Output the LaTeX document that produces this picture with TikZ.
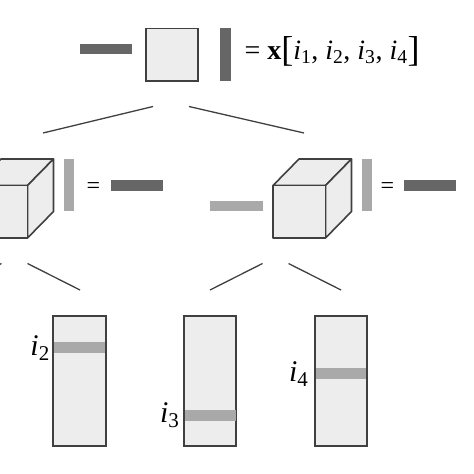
\documentclass[tikz,border=0pt]{standalone}
\usepackage{fontspec}
\setmainfont{Liberation Serif}
\definecolor{facec}{HTML}{EDEDED}
\definecolor{edgec}{HTML}{404040}
\definecolor{darkbar}{HTML}{666666}
\definecolor{lightbar}{HTML}{A9A9A9}
\newcommand{\idx}[2]{\textit{#1}\textsubscript{#2}}
\newcommand{\bigbr}[1]{\raisebox{-2.5pt}{\fontsize{36}{36}\selectfont #1}}
\tikzset{
  every node/.style={inner sep=0pt,outer sep=0pt},
  box/.style={draw=edgec,fill=facec,line width=1.7pt,minimum width=52.5pt},
  squarebox/.style={box,minimum height=52.5pt},
  tallbox/.style={box,minimum height=130pt},
  hdark/.style={fill=darkbar,minimum width=52.5pt,minimum height=10.5pt},
  vdark/.style={fill=darkbar,minimum width=10.5pt,minimum height=52.5pt},
  hlight/.style={fill=lightbar,minimum width=52.5pt,minimum height=10.5pt},
  vlight/.style={fill=lightbar,minimum width=10.5pt,minimum height=52.5pt},
  slice/.style={fill=lightbar,minimum width=50.5pt,minimum height=10.5pt},
  link/.style={draw=edgec,line width=1.3pt},
  cubeface/.style={draw=edgec,fill=facec,line width=1.6pt,line join=round},
  formulalabel/.style={font=\fontsize{28}{28}\selectfont,anchor=base west},
  eqlabel/.style={font=\fontsize{24}{24}\selectfont,anchor=base west},
  idxlabel/.style={font=\fontsize{30}{30}\selectfont,anchor=base west}
}
\begin{document}
\begin{tikzpicture}[x=1pt,y=-1pt]
\useasboundingbox (0,0) rectangle (474,474);
\clip (0,0) rectangle (474,474);
% top row
\node[hdark] (topH) at (106,49) {};
\node[squarebox] (topS) at (172,54.7) {};
\node[vdark] (topV) at (225.7,54.7) {};
\node[formulalabel] (formula) at (244.5,59) {= \textbf{x}\bigbr{[}\idx{i}{1}, \idx{i}{2}, \idx{i}{3}, \idx{i}{4}\bigbr{]}};
% links from top
\coordinate (a1) at (153,106.5);
\coordinate (a2) at (43,133);
\coordinate (b1) at (189,106.5);
\coordinate (b2) at (304,133);
\draw[link] (a1) -- (a2);
\draw[link] (b1) -- (b2);
% left cube
\coordinate (lf1) at (-25,185.5);
\coordinate (lf2) at (27.5,185.5);
\coordinate (lf3) at (27.5,238);
\coordinate (lb1) at (1,159);
\coordinate (lb2) at (53.5,159);
\coordinate (lb3) at (53.5,211.5);
\draw[cubeface] (lf1) -- (lb1) -- (lb2) -- (lf2) -- cycle;
\draw[cubeface] (lf2) -- (lb2) -- (lb3) -- (lf3) -- cycle;
\draw[cubeface] (lf1) rectangle (lf3);
\node[vlight] (leftV) at (69.2,185.2) {};
\node[eqlabel] (leftEq) at (86.5,193) {=};
\node[hdark] (leftH) at (137,185.5) {};
% right cube
\node[hlight] (rightL) at (236.5,206) {};
\coordinate (rf1) at (273,185.5);
\coordinate (rf2) at (325.5,185.5);
\coordinate (rf3) at (325.5,238);
\coordinate (rb1) at (299,159);
\coordinate (rb2) at (351.5,159);
\coordinate (rb3) at (351.5,211.5);
\draw[cubeface] (rf1) -- (rb1) -- (rb2) -- (rf2) -- cycle;
\draw[cubeface] (rf2) -- (rb2) -- (rb3) -- (rf3) -- cycle;
\draw[cubeface] (rf1) rectangle (rf3);
\node[vlight] (rightV) at (367.2,185.2) {};
\node[eqlabel] (rightEq) at (380.5,193) {=};
\node[hdark] (rightH) at (430,185.5) {};
% lower links
\coordinate (c0) at (1.5,263.5);
\coordinate (c00) at (-50,290);
\coordinate (c1) at (27.5,263.5);
\coordinate (c2) at (80,290);
\coordinate (d1) at (262.5,263.5);
\coordinate (d2) at (210,290);
\coordinate (e1) at (288.5,263.5);
\coordinate (e2) at (341,290);
\draw[link] (c0) -- (c00);
\draw[link] (c1) -- (c2);
\draw[link] (d1) -- (d2);
\draw[link] (e1) -- (e2);
% bottom columns
\node[tallbox] (col2) at (79.5,381.3) {};
\node[tallbox,minimum width=52pt] (col3) at (210.3,381.3) {};
\node[tallbox] (col4) at (341,381.3) {};
\node[slice] (s2) at (79.5,347.3) {};
\node[slice] (s3) at (210.3,415.3) {};
\node[slice] (s4) at (341,373.3) {};
\node[idxlabel] (l2) at (30.5,355.5) {\idx{i}{2}};
\node[idxlabel] (l3) at (160,422.5) {\idx{i}{3}};
\node[idxlabel] (l4) at (289,381.5) {\idx{i}{4}};
\end{tikzpicture}
\end{document}
